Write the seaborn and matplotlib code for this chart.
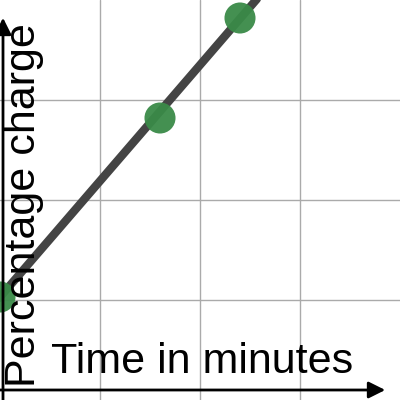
import numpy as np
import pandas as pd
import seaborn as sns
import matplotlib.pyplot as plt

# data (grid units)
time_pts = [0.0, 1.6, 2.4]
charge_pts = [1.03, 2.82, 3.82]
line_x = [-0.5, 3.0]
line_y = [1.03 - 0.5 * 1.16, 1.03 + 3.0 * 1.16]

sns.set_theme(style="white")
plt.rcParams['font.family'] = ['Liberation Sans', 'DejaVu Sans']

fig = plt.figure(figsize=(4, 4), dpi=100)
ax = fig.add_axes([0, 0, 1, 1])
ax.set_xlim(0, 4)
ax.set_ylim(0, 4)

for v in [1, 2, 3]:
    ax.axvline(v, color="#aaaaaa", lw=1, zorder=0)
    ax.axhline(v, color="#aaaaaa", lw=1, zorder=0)

sns.lineplot(x=line_x, y=line_y, ax=ax, color="#444444", lw=6, zorder=2)
sns.scatterplot(x=time_pts, y=charge_pts, ax=ax, color="#3a8a48", s=500,
                edgecolor="none", zorder=3, clip_on=False, alpha=0.95)

# axes arrows
ax.annotate("", xy=(0.03, 3.85), xytext=(0.03, -0.1),
            arrowprops=dict(arrowstyle="-|>", color="black", lw=2, mutation_scale=25))
ax.annotate("", xy=(3.88, 0.1), xytext=(-0.1, 0.1),
            arrowprops=dict(arrowstyle="-|>", color="black", lw=2, mutation_scale=25))

ax.text(2.02, 0.38, "Time in minutes", fontsize=31, ha="center", va="center", color="black")
ax.text(0.24, 1.95, "Percentage charge", fontsize=31, rotation=90,
        ha="center", va="center", color="black")

for s in ax.spines.values():
    s.set_visible(False)
ax.set_xticks([])
ax.set_yticks([])
ax.set_xlabel("")
ax.set_ylabel("")

fig.savefig("out.png", dpi=100)
